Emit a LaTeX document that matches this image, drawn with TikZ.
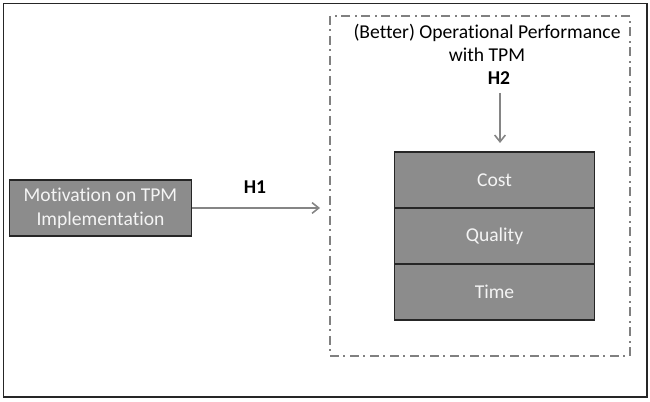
\documentclass[tikz,border=0pt]{standalone}
\usepackage{fontspec}
\setmainfont[Ligatures={NoCommon}]{Carlito}
\usetikzlibrary{arrows.meta}
\definecolor{boxgray}{HTML}{8C8C8C}
\definecolor{txtwhite}{HTML}{F4F4F4}
\definecolor{arrgray}{HTML}{858585}
\definecolor{dashgray}{HTML}{808080}
\tikzset{
  graybox/.style={draw=black!85, line width=1.3pt, fill=boxgray, text=txtwhite, align=center, inner sep=0pt, font=\fontsize{14.7}{18}\selectfont},
  conn/.style={draw=arrgray, line width=1.2pt, -{Straight Barb[length=5pt,width=8pt]}},
  hlabel/.style={font=\fontsize{14.7}{17}\selectfont\bfseries, text=black, inner sep=0pt},
  title/.style={font=\fontsize{14.7}{17.5}\selectfont, align=center, inner sep=0pt}
}
\begin{document}
\begin{tikzpicture}[x=0.75pt, y=-0.75pt]
\useasboundingbox (0,0) rectangle (650,402);
\fill[white] (0,0) rectangle (650,402);
\draw[black!85, line width=1.1pt] (3.5,3.5) rectangle (647,397);
\draw[dashgray, line width=2.1pt, dash pattern=on 6.5pt off 3.5pt on 1.5pt off 3.5pt] (330,16) rectangle (630,356);
\node[graybox, minimum width=182*0.75pt, minimum height=56*0.75pt] (mot) at (100.5,208) {Motivation on TPM\\Implementation};
\node[graybox, minimum width=200*0.75pt, minimum height=56*0.75pt] (cost) at (494.5,180) {Cost};
\node[graybox, minimum width=200*0.75pt, minimum height=56*0.75pt] (qual) at (494.5,236) {Quality};
\node[graybox, minimum width=200*0.75pt, minimum height=56*0.75pt] (time) at (494.5,292) {Time};
\node[title] (ttl) at (487,43) {(Better) Operational Performance\\with TPM};
\node[hlabel] (h1) at (255,187) {H1};
\node[hlabel] (h2) at (499,78) {H2};
\coordinate (h1end) at (320,208);
\coordinate (h2start) at (500,93);
\coordinate (h2end) at (500,143);
\draw[conn] (mot.east) -- (h1end);
\draw[conn] (h2start) -- (h2end);
\end{tikzpicture}
\end{document}
